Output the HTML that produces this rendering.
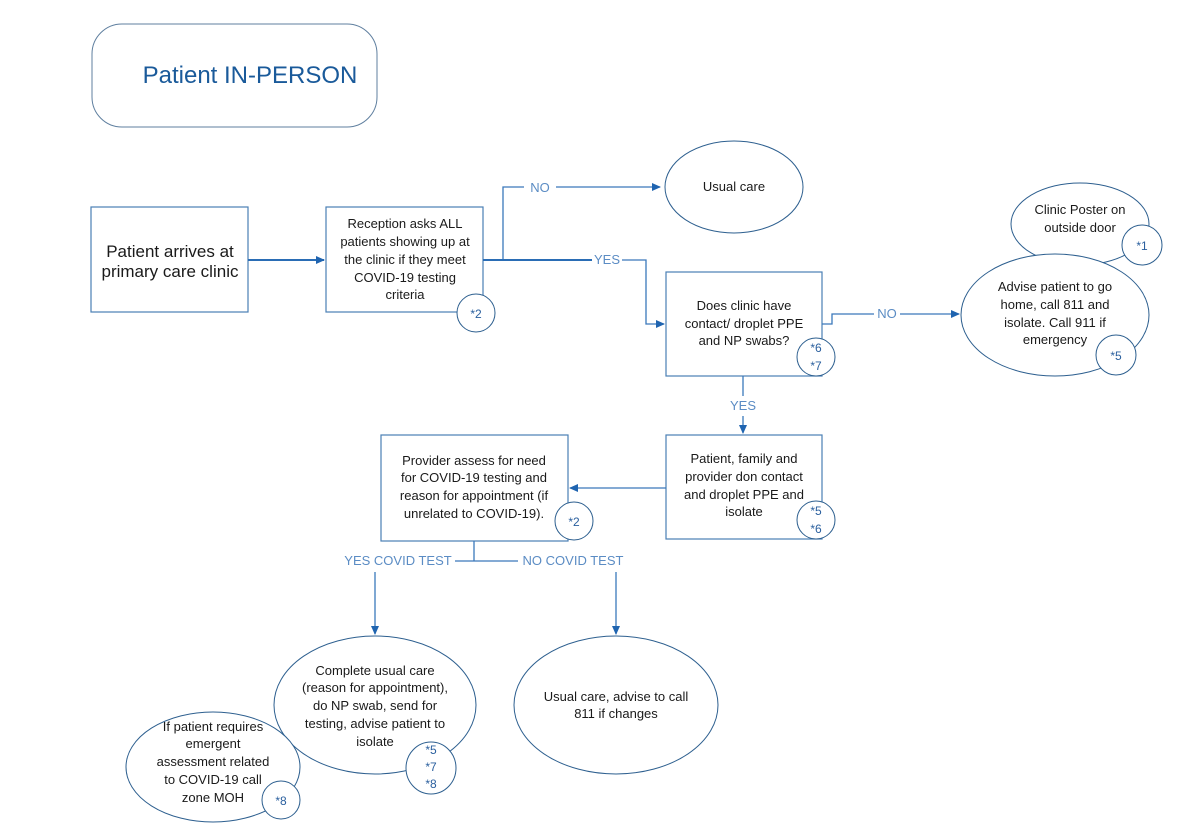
<!DOCTYPE html>
<html><head><meta charset="utf-8"><style>
html,body{margin:0;padding:0;background:#fff;}
svg{display:block;}
text{font-family:"Liberation Sans",sans-serif;}
.t{font-size:13px;fill:#1a1a1a;text-anchor:middle;}
.l{font-size:13px;fill:#5b8cc4;text-anchor:middle;}
.n{font-size:12px;fill:#2a5f9e;text-anchor:middle;}
.b{fill:#fff;stroke:#4a7fb5;stroke-width:1.2;}
.c{fill:#fff;stroke:#2d5f8f;stroke-width:1;}
.w{fill:none;stroke:#2a6db5;stroke-width:2;}
.w1{fill:none;stroke:#3a78bb;stroke-width:1.3;}
</style></head><body>
<svg width="1189" height="839" viewBox="0 0 1189 839" xmlns="http://www.w3.org/2000/svg">
<defs><marker id="a" markerWidth="10" markerHeight="10" refX="8" refY="5" orient="auto" markerUnits="userSpaceOnUse"><path d="M0,1 L9,5 L0,9 Z" fill="#1f64b0"/></marker></defs>

<rect x="92" y="24" width="285" height="103" rx="30" fill="#fff" stroke="#5f7f9f" stroke-width="1"/>
<text x="250" y="83" style="font-size:24px;fill:#1a5a9a;text-anchor:middle">Patient IN-PERSON</text>

<!-- box1 -->
<rect class="b" x="91" y="207" width="157" height="105"/>
<text class="t" style="font-size:17px" x="170" y="257">Patient arrives at</text>
<text class="t" style="font-size:17px" x="170" y="277">primary care clinic</text>
<line class="w" x1="248" y1="260" x2="324" y2="260" marker-end="url(#a)"/>

<!-- box2 -->
<rect class="b" x="326" y="207" width="157" height="105"/>
<text class="t" x="405" y="228">Reception asks ALL</text>
<text class="t" x="405" y="246">patients showing up at</text>
<text class="t" x="405" y="264">the clinic if they meet</text>
<text class="t" x="405" y="282">COVID-19 testing</text>
<text class="t" x="405" y="299">criteria</text>
<circle class="c" cx="476" cy="313" r="19"/><text class="n" x="476" y="318">*2</text>

<!-- NO to usual care -->
<polyline class="w1" points="483,260 503,260 503,187 524,187"/>
<line class="w1" x1="556" y1="187" x2="660" y2="187" marker-end="url(#a)"/>
<text class="l" x="540" y="192">NO</text>
<ellipse class="c" cx="734" cy="187" rx="69" ry="46"/>
<text class="t" x="734" y="191">Usual care</text>

<!-- YES to box3 -->
<line class="w" x1="483" y1="260" x2="592" y2="260"/>
<text class="l" x="607" y="264">YES</text>
<polyline class="w1" points="622,260 646,260 646,324 664,324" marker-end="url(#a)"/>

<!-- box3 -->
<rect class="b" x="666" y="272" width="156" height="104"/>
<text class="t" x="744" y="310">Does clinic have</text>
<text class="t" x="744" y="328">contact/ droplet PPE</text>
<text class="t" x="744" y="345">and NP swabs?</text>
<circle class="c" cx="816" cy="357" r="19"/>
<text class="n" x="816" y="352">*6</text><text class="n" x="816" y="370">*7</text>

<!-- NO to advise -->
<polyline class="w1" points="822,324 832,324 832,314 874,314"/>
<text class="l" x="887" y="318">NO</text>
<line class="w1" x1="900" y1="314" x2="959" y2="314" marker-end="url(#a)"/>

<!-- clinic poster -->
<ellipse class="c" cx="1080" cy="224" rx="69" ry="41"/>
<text class="t" x="1080" y="214">Clinic Poster on</text>
<text class="t" x="1080" y="232">outside door</text>
<circle class="c" cx="1142" cy="245" r="20"/><text class="n" x="1142" y="250">*1</text>

<ellipse class="c" cx="1055" cy="315" rx="94" ry="61"/>
<text class="t" x="1055" y="291">Advise patient to go</text>
<text class="t" x="1055" y="309">home, call 811 and</text>
<text class="t" x="1055" y="327">isolate. Call 911 if</text>
<text class="t" x="1055" y="344">emergency</text>
<circle class="c" cx="1116" cy="355" r="20"/><text class="n" x="1116" y="360">*5</text>

<!-- YES down -->
<line class="w1" x1="743" y1="376" x2="743" y2="396"/>
<text class="l" x="743" y="410">YES</text>
<line class="w1" x1="743" y1="416" x2="743" y2="433" marker-end="url(#a)"/>

<!-- box4 -->
<rect class="b" x="666" y="435" width="156" height="104"/>
<text class="t" x="744" y="463">Patient, family and</text>
<text class="t" x="744" y="481">provider don contact</text>
<text class="t" x="744" y="499">and droplet PPE and</text>
<text class="t" x="744" y="516">isolate</text>
<circle class="c" cx="816" cy="520" r="19"/>
<text class="n" x="816" y="515">*5</text><text class="n" x="816" y="533">*6</text>

<line class="w1" x1="666" y1="488" x2="570" y2="488" marker-end="url(#a)"/>

<!-- box5 -->
<rect class="b" x="381" y="435" width="187" height="106"/>
<text class="t" x="474" y="465">Provider assess for need</text>
<text class="t" x="474" y="482">for COVID-19 testing and</text>
<text class="t" x="474" y="500">reason for appointment (if</text>
<text class="t" x="474" y="518">unrelated to COVID-19).</text>
<circle class="c" cx="574" cy="521" r="19"/><text class="n" x="574" y="526">*2</text>

<polyline class="w1" points="474,541 474,561"/>
<line class="w1" x1="455" y1="561" x2="518" y2="561"/>
<text class="l" x="398" y="565">YES COVID TEST</text>
<text class="l" x="573" y="565">NO COVID TEST</text>
<line class="w1" x1="375" y1="572" x2="375" y2="634" marker-end="url(#a)"/>
<line class="w1" x1="616" y1="572" x2="616" y2="634" marker-end="url(#a)"/>

<!-- complete usual care -->
<ellipse class="c" cx="375" cy="705" rx="101" ry="69"/>
<text class="t" x="375" y="675">Complete usual care</text>
<text class="t" x="375" y="692">(reason for appointment),</text>
<text class="t" x="375" y="710">do NP swab, send for</text>
<text class="t" x="375" y="728">testing, advise patient to</text>
<text class="t" x="375" y="746">isolate</text>

<!-- if patient -->
<ellipse class="c" cx="213" cy="767" rx="87" ry="55"/>
<text class="t" x="213" y="731">If patient requires</text>
<text class="t" x="213" y="748">emergent</text>
<text class="t" x="213" y="766">assessment related</text>
<text class="t" x="213" y="784">to COVID-19 call</text>
<text class="t" x="213" y="802">zone MOH</text>
<circle class="c" cx="281" cy="800" r="19"/><text class="n" x="281" y="805">*8</text>

<ellipse class="c" cx="431" cy="768" rx="25" ry="26"/>
<text class="n" x="431" y="754">*5</text><text class="n" x="431" y="771">*7</text><text class="n" x="431" y="788">*8</text>

<!-- usual care advise -->
<ellipse class="c" cx="616" cy="705" rx="102" ry="69"/>
<text class="t" x="616" y="701">Usual care, advise to call</text>
<text class="t" x="616" y="718">811 if changes</text>
</svg>
</body></html>
